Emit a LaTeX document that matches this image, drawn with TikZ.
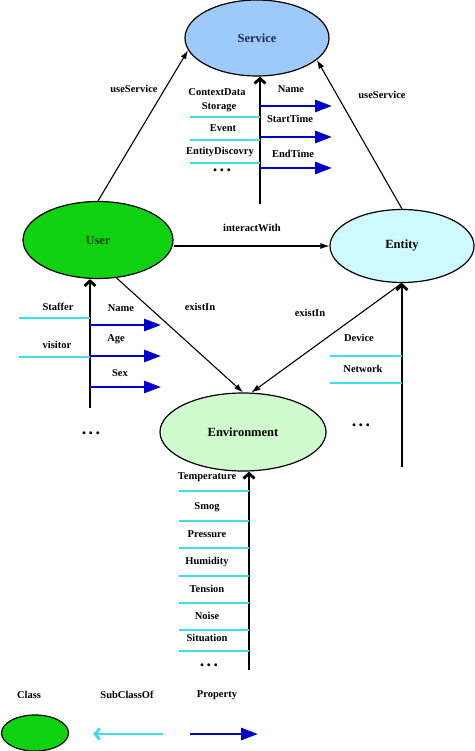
\documentclass[tikz,border=0pt]{standalone}
\usepackage{fontspec}
\setmainfont{Liberation Serif}
\usetikzlibrary{arrows.meta,shapes.geometric}

\begin{document}
\begin{tikzpicture}[x=1pt,y=-1pt,
        classnode/.style={ellipse,draw=black,line width=1.2pt,inner sep=0pt,
            font=\fontsize{12.5}{13}\selectfont\bfseries},
        lbl/.style={font=\fontsize{10.5}{11}\selectfont\bfseries,inner sep=1pt},
        dots/.style={font=\fontsize{18}{18}\selectfont\bfseries,inner sep=0pt},
        relation/.style={-{Latex[length=9pt,width=6pt]},line width=1.1pt},
        stem/.style={-{Straight Barb[length=5pt,width=11pt]},line width=2.8pt},
        isa/.style={draw=subcyan,line width=2.8pt},
        prop/.style={-{Triangle[length=17pt,width=12pt]},draw=propblue,line width=2.8pt}]
        \definecolor{servicefill}{RGB}{158,202,250}
        \definecolor{userfill}{RGB}{17,210,17}
        \definecolor{entityfill}{RGB}{206,250,255}
        \definecolor{envfill}{RGB}{206,250,206}
        \definecolor{subcyan}{RGB}{64,222,232}
        \definecolor{propblue}{RGB}{0,0,205}

        \useasboundingbox (0,0) rectangle (474,751);

        % classes
        \node[classnode,fill=servicefill,text={rgb,255:red,30;green,40;blue,90},
            minimum width=144pt,minimum height=76pt] (service) at (257,38) {Service};
        \node[classnode,fill=userfill,text={rgb,255:red,10;green,70;blue,10},
            minimum width=150pt,minimum height=77pt] (user) at (98,240) {User};
        \node[classnode,fill=entityfill,minimum width=144pt,minimum height=73pt]
            (entity) at (402,246) {Entity};
        \node[classnode,fill=envfill,minimum width=166pt,minimum height=78pt]
            (environment) at (243,432) {Environment};

        % relations
        \draw[relation] (user.north) -- (service.190);
        \node[lbl] (useserv1) at (134,89) {useService};
        \draw[relation] (entity.north) -- (service.340);
        \node[lbl] (useserv2) at (382,95) {useService};
        \draw[relation] (user.east |- entity.west) -- (entity.west);
        \node[lbl] (interact) at (252,228) {interactWith};
        \draw[relation] (user.-64) -- (environment.north);
        \draw[relation] (entity.south) -- (environment.78);
        \node[lbl] (exist1) at (200,307) {existIn};
        \node[lbl] (exist2) at (310,313) {existIn};

        % service
        \coordinate (sbase) at (260,204);
        \draw[stem] (sbase) -- (sbase |- service.south);
        \foreach \y in {117,140,163}
            \draw[isa] (190,\y) -- (sbase |- 0,\y);
        \foreach \y in {106,137,168}
            \draw[prop] (sbase |- 0,\y) -- (332,\y);
        \node[lbl] (ctxdata) at (217,92) {ContextData};
        \node[lbl] (storage) at (219,107) {Storage};
        \node[lbl] (event) at (223,128) {Event};
        \node[lbl] (discovry) at (220,152) {EntityDiscovry};
        \node[dots] (sdots) at (222,170) {.\hspace{2.5pt}.\hspace{2.5pt}.};
        \node[lbl] (sname) at (291,89) {Name};
        \node[lbl] (start) at (290,119) {StartTime};
        \node[lbl] (end) at (293,154) {EndTime};

        % user
        \coordinate (ubase) at (90,408);
        \draw[stem] (ubase) -- (ubase |- user.south);
        \foreach \y in {318,357}
            \draw[isa] (19,\y) -- (ubase |- 0,\y);
        \foreach \y in {325,356,387}
            \draw[prop] (ubase |- 0,\y) -- (161,\y);
        \node[lbl] (staffer) at (58,307) {Staffer};
        \node[lbl] (visitor) at (57,345) {visitor};
        \node[lbl] (uname) at (121,308) {Name};
        \node[lbl] (age) at (116,339) {Age};
        \node[lbl] (sex) at (120,373) {Sex};
        \node[dots] (udots) at (91,433) {.\hspace{2.5pt}.\hspace{2.5pt}.};

        % entity
        \coordinate (ebase) at (402,467);
        \draw[stem] (ebase) -- (entity.south);
        \foreach \y in {356,383}
            \draw[isa] (330,\y) -- (ebase |- 0,\y);
        \node[lbl] (device) at (359,338) {Device};
        \node[lbl] (network) at (363,369) {Network};
        \node[dots] (edots) at (361,425) {.\hspace{2.5pt}.\hspace{2.5pt}.};

        % environment
        \coordinate (vbase) at (249,670);
        \draw[stem] (vbase) -- (vbase |- environment.south);
        \foreach \y in {491,521,548,576,603,630,651}
            \draw[isa] (179,\y) -- (vbase |- 0,\y);
        \foreach \name/\y [count=\i] in {Temperature/477,Smog/507,Pressure/534,
                Humidity/562,Tension/589,Noise/616,Situation/638}
            \node[lbl] (envsub\i) at (207,\y) {\name};
        \node[dots] (vdots) at (209,665) {.\hspace{2.5pt}.\hspace{2.5pt}.};

        % legend
        \node[lbl] (lclass) at (29,695) {Class};
        \node[lbl] (lsub) at (127,695) {SubClassOf};
        \node[lbl] (lprop) at (217,695) {Property};
        \node[classnode,fill=userfill,minimum width=67pt,minimum height=36pt]
            (legclass) at (35,733) {};
        \coordinate (subfrom) at (163,734);
        \coordinate (subto) at (93,734);
        \draw[isa,-{Straight Barb[length=5pt,width=11pt]}] (subfrom) -- (subto);
        \coordinate (propfrom) at (190,734);
        \coordinate (propto) at (258,734);
        \draw[prop] (propfrom) -- (propto);
    \end{tikzpicture}
\end{document}
